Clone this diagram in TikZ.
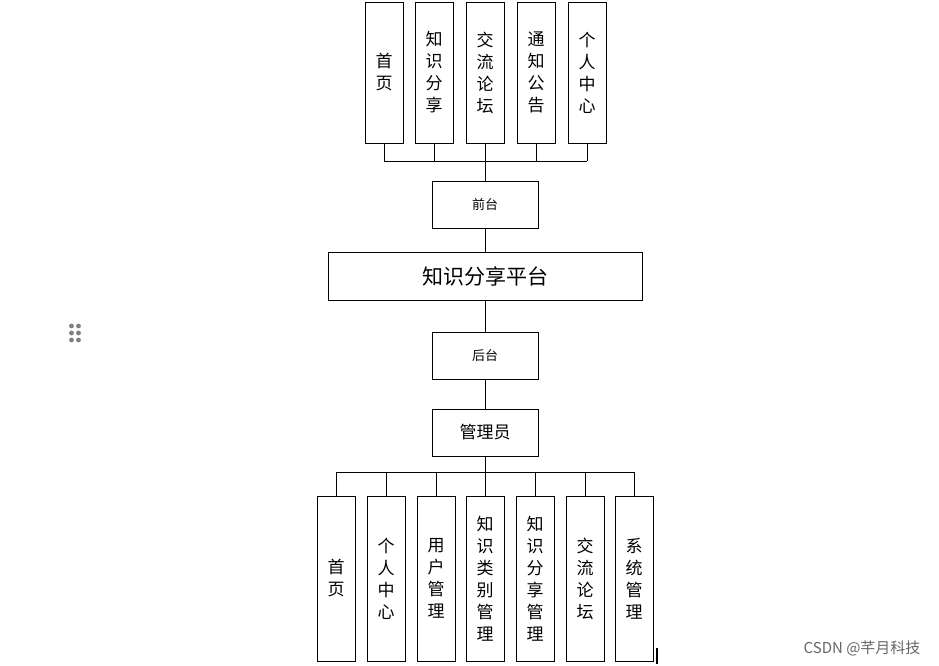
\documentclass[tikz,border=0pt]{standalone}
\usepackage{fontspec}
\newfontfamily\cjk{Noto Sans CJK SC}
\begin{document}
\begin{tikzpicture}[x=1pt,y=-1pt,
  box/.style={draw,line width=0.9pt,inner sep=0pt,font=\cjk\fontsize{17}{22}\selectfont,align=center},
  ln/.style={line width=0.9pt}]
\useasboundingbox[fill=white] (0,0) rectangle (939,666);
% top
\foreach \n/\x/\t in {t1/384/首\\页,t2/434/知\\识\\分\\享,t3/485/交\\流\\论\\坛,t4/536/通\\知\\公\\告,t5/587/个\\人\\中\\心}{
  \node[box,minimum width=38,minimum height=141] (\n) at (\x,72.5) {\t};
}
\node[box,minimum width=106,minimum height=47,font=\cjk\fontsize{13}{16}\selectfont] (ft) at (485,204.5) {前台};
\node[box,minimum width=314,minimum height=48,font=\cjk\fontsize{21}{24}\selectfont] (pl) at (485,276) {知识分享平台};
\node[box,minimum width=106,minimum height=47,font=\cjk\fontsize{13}{16}\selectfont] (bt) at (485,355.5) {后台};
\node[box,minimum width=106,minimum height=47] (ad) at (485,432.5) {管理员};
\foreach \n/\x/\t in {b1/336/首\\页,b2/386/个\\人\\中\\心,b3/436/用\\户\\管\\理,b4/485/知\\识\\类\\别\\管\\理,b5/535/知\\识\\分\\享\\管\\理,b6/585/交\\流\\论\\坛,b7/634/系\\统\\管\\理}{
  \node[box,minimum width=38,minimum height=165] (\n) at (\x,578.5) {\t};
}
\coordinate (tb) at (485,161);
\foreach \n in {t1,t2,t3,t4,t5}{\draw[ln] (\n.south) -- (\n.south |- tb);}
\draw[ln] (t1.south |- tb) -- (t5.south |- tb);
\draw[ln] (t3.south) -- (ft.north);
\draw[ln] (ft) -- (pl);
\draw[ln] (pl) -- (bt);
\draw[ln] (bt) -- (ad);
\coordinate (bb) at (485,472);
\draw[ln] (ad.south) -- (bb);
\draw[ln] (b1.north |- bb) -- (b7.north |- bb);
\foreach \n in {b1,b2,b3,b4,b5,b6,b7}{\draw[ln] (\n.north |- bb) -- (\n.north);}
\foreach \yy in {326,333,340}{\fill[gray] (71.5,\yy) circle (2.4); \fill[gray] (78.5,\yy) circle (2.4);}
\draw[line width=1.2pt] (657,648) -- (657,664);
\node[font=\cjk\fontsize{15}{18}\selectfont,text=gray!80!black,anchor=east] (wm) at (924,648) {CSDN @芊月科技};
\end{tikzpicture}
\end{document}
